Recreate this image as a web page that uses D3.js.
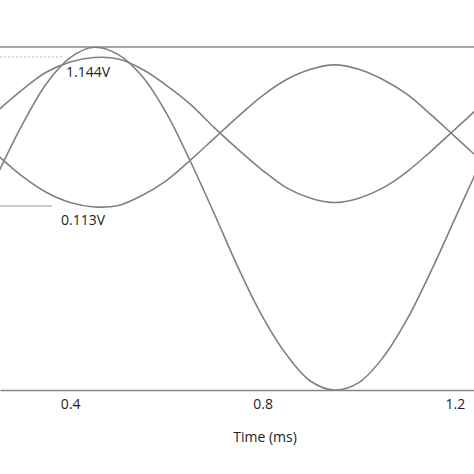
<!DOCTYPE html>
<html><head><meta charset="utf-8">
<script src="https://cdn.jsdelivr.net/npm/d3@7"></script>
<style>body{margin:0;background:#fff}text{font-family:"Open Sans",sans-serif}</style>
</head><body><div class="chart"></div>
<script>
var times = [0.25,0.30,0.35,0.40,0.45,0.50,0.55,0.60,0.65,0.70,0.75,0.80,0.85,0.90,0.95,1.00,1.05,1.10,1.15,1.20,1.25];
var vLarge = [0.35,0.68,0.96,1.14,1.21,1.16,1.01,0.76,0.43,0.07,-0.30,-0.63,-0.89,-1.07,-1.13,-1.08,-0.91,-0.65,-0.32,0.04,0.40];
var vA = [0.78,0.92,1.04,1.11,1.14,1.13,1.06,0.95,0.82,0.66,0.51,0.37,0.25,0.18,0.15,0.18,0.25,0.36,0.50,0.65,0.80];
var vB = [0.47,0.33,0.22,0.15,0.12,0.13,0.20,0.30,0.44,0.59,0.74,0.88,0.99,1.06,1.09,1.06,0.99,0.89,0.75,0.60,0.45];
var xTicks = [0.4,0.8,1.2];
var markHigh = 1.144, markLow = 0.113;

var width = 474, height = 474;
var x = d3.scaleLinear().domain([0.254, 1.2396]).range([0, 474]);
var y = d3.scaleLinear().domain([-1.13, 1.212]).range([390, 47]);

var svg = d3.select(".chart").append("svg").attr("width", width).attr("height", height);

var line = d3.line()
    .x(function (d) { return x(d[0]); })
    .y(function (d) { return y(d[1]); })
    .curve(d3.curveCatmullRom);

svg.append("clipPath").attr("id", "c").append("rect")
    .attr("x", 0).attr("y", 40).attr("width", 474).attr("height", 352);

// top frame line
svg.append("path").attr("d", `M0 ${y.range()[1]} L ${width} ${y.range()[1]}`)
    .attr("stroke", "#888").attr("stroke-width", 1.5);

// marker lines
svg.append("path").attr("d", `M0 ${y(markHigh)} L 62 ${y(markHigh)}`)
    .attr("stroke", "#bbb").attr("stroke-dasharray", "2,2");
svg.append("path").attr("d", `M0 ${y(markLow) - 2} L 52 ${y(markLow) - 2}`)
    .attr("stroke", "#999");

var g = svg.append("g").attr("clip-path", "url(#c)");
[vLarge, vA, vB].forEach(function (vals) {
    g.append("path")
        .datum(times.map(function (t, i) { return [t, vals[i]]; }))
        .attr("d", line)
        .attr("fill", "none")
        .attr("stroke", "#808080")
        .attr("stroke-width", 1.6);
});

svg.append("text").attr("x", 66).attr("y", y(markHigh) + 20).attr("font-size", 14).attr("fill", "#222").text("1.144V");
svg.append("text").attr("x", 61).attr("y", y(markLow) + 17).attr("font-size", 14).attr("fill", "#222").text("0.113V");

// x axis
var ax = svg.append("g").attr("transform", "translate(0,390)")
    .call(d3.axisBottom(x).tickValues(xTicks).tickSize(0).tickPadding(9).tickFormat(d3.format(".1f")));
ax.select(".domain").attr("stroke", "#888").attr("stroke-width", 1.5);
ax.selectAll("text").attr("font-size", 14).attr("fill", "#222").style("font-family", "Open Sans");

svg.append("text").attr("x", 265).attr("y", 442).attr("text-anchor", "middle")
    .attr("font-size", 14).attr("fill", "#222").text("Time (ms)");
</script></body></html>
